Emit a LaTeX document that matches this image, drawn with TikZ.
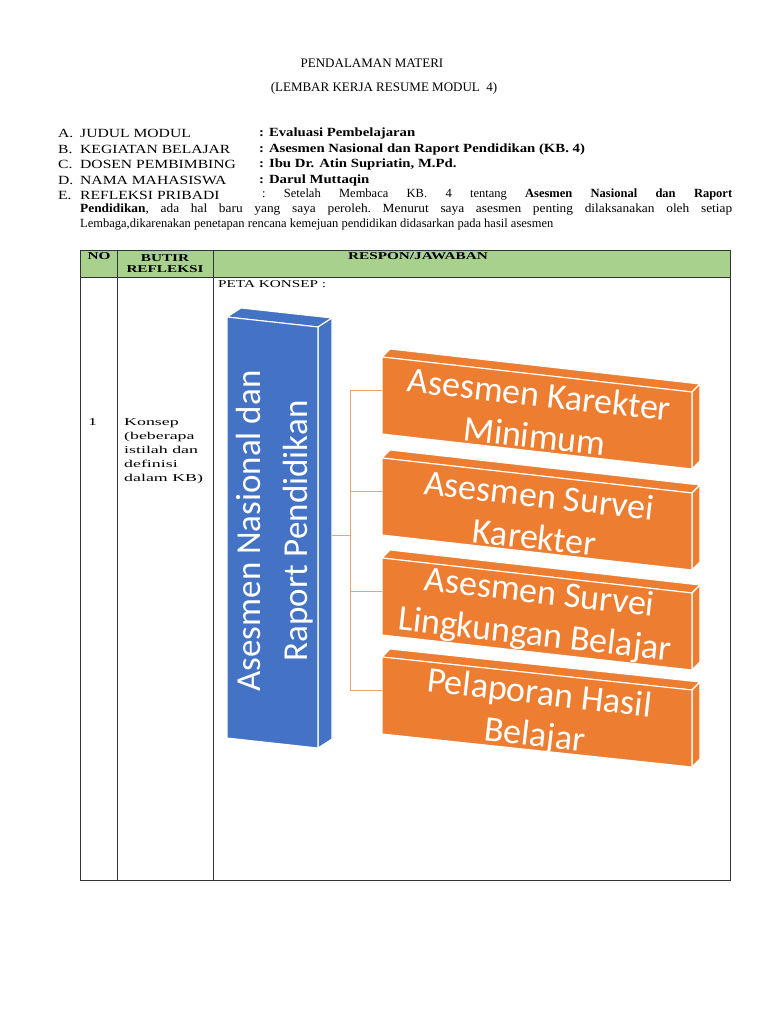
\documentclass[tikz,border=0pt]{standalone}
\usepackage{fontspec}
\setmainfont{Liberation Serif}
\newfontfamily\calib{Carlito}
\newfontfamily\widea[FakeStretch=1.45]{Liberation Serif}
\newfontfamily\wideb[FakeStretch=1.7]{Liberation Serif}
\newfontfamily\widec[FakeStretch=1.18]{Liberation Serif}
\newfontfamily\wided[FakeStretch=1.25]{Liberation Serif}
\newfontfamily\widee[FakeStretch=1.07]{Liberation Serif}
\usetikzlibrary{calc}
\definecolor{orng}{HTML}{ED7D31}
\definecolor{blu}{HTML}{4472C4}
\definecolor{grn}{HTML}{A9D18E}
\definecolor{conn}{HTML}{EFA46A}
\definecolor{tline}{HTML}{333333}
\newcommand{\slab}[9]{% name, color, x, y, w, h, rise, dx, dy
  \coordinate (#1tl) at (#3,#4);
  \coordinate (#1tr) at ($(#3,#4)+(#5,#7)$);
  \coordinate (#1br) at ($(#1tr)+(0,#6)$);
  \coordinate (#1bl) at ($(#3,#4)+(0,#6)$);
  \filldraw[fill=#2,draw=white,line width=1.1pt,line join=round]
    (#1tl) -- ($(#1tl)+(#8,#9)$) -- ($(#1tr)+(#8,#9)$) -- (#1tr) -- cycle;
  \filldraw[fill=#2,draw=white,line width=1.1pt,line join=round]
    (#1tr) -- ($(#1tr)+(#8,#9)$) -- ($(#1br)+(#8,#9)$) -- (#1br) -- cycle;
  \filldraw[fill=#2,draw=white,line width=1.1pt,line join=round]
    (#1tl) -- (#1tr) -- (#1br) -- (#1bl) -- cycle;
  \coordinate (#1lm) at ($(#1tl)+(0,#6*0.44)$);
  \coordinate (#1c) at ($(#1tl)!0.5!(#1br)$);
}
\begin{document}
\begin{tikzpicture}[x=1pt,y=-1pt,
  hd/.style={inner sep=0pt,anchor=west,font=\fontsize{12.5}{15}\selectfont\frenchspacing},
  hl/.style={inner sep=0pt,anchor=west,font=\wided\fontsize{12.5}{15}\selectfont},
  hv/.style={inner sep=0pt,anchor=west,font=\widec\fontsize{12.5}{15}\selectfont\bfseries},
  hdc/.style={inner sep=0pt,font=\fontsize{13}{15}\selectfont},
  tb/.style={inner sep=0pt,font=\widea\fontsize{10.5}{13}\selectfont\bfseries,align=center},
  tt/.style={inner sep=0pt,anchor=north west,font=\widea\fontsize{10.5}{14}\selectfont,align=left},
  tk/.style={inner sep=0pt,anchor=north west,font=\wideb\fontsize{10.5}{14}\selectfont,align=left},
  otext/.style={inner sep=0pt,text=white,align=center,font=\calib\fontsize{36}{42}\selectfont},
  btext/.style={inner sep=0pt,text=white,align=center,font=\calib\fontsize{35}{47}\selectfont},
  connline/.style={draw=conn,line width=0.9pt},
  grid/.style={draw=tline,line width=0.9pt}]
\useasboundingbox (0,0) rectangle (768,1024);
\fill[white] (0,0) rectangle (768,1024);

% titles
\node[hdc] (t1) at (372,63) {PENDALAMAN MATERI};
\node[hdc] (t2) at (384,88) {(LEMBAR KERJA RESUME MODUL\ \ 4)};

% items
\node[hl] (la) at (58,133) {A.};
\node[hl] (lb) at (58,149) {B.};
\node[hl] (lc) at (58,164) {C.};
\node[hl] (ld) at (58,180) {D.};
\node[hl] (le) at (58,195) {E.};
\node[hl] (na) at (80,133) {JUDUL MODUL};
\node[hl] (nb) at (80,149) {KEGIATAN BELAJAR};
\node[hl] (nc) at (80,164) {DOSEN PEMBIMBING};
\node[hl] (nd) at (80,180) {NAMA MAHASISWA};
\node[hl] (ne) at (80,195) {REFLEKSI PRIBADI};
\node[hv] (va) at (259,133) {: Evaluasi Pembelajaran};
\node[hv] (vb) at (259,149) {: Asesmen Nasional dan Raport Pendidikan (KB. 4)};
\node[hv] (vc) at (259,164) {: Ibu Dr. Atin Supriatin, M.Pd.};
\node[hv] (vd) at (259,180) {: Darul Muttaqin};
\node[hd] (ve) at (262,195) {\makebox[470pt][s]{: Setelah Membaca KB. 4 tentang \textbf{Asesmen Nasional dan Raport}}};
\node[hd] (ve2) at (80,210) {\widee\makebox[652pt][s]{\textbf{Pendidikan}, ada hal baru yang saya peroleh. Menurut saya asesmen penting dilaksanakan oleh setiap}};
\node[hd] (ve3) at (80,225) {Lembaga,dikarenakan penetapan rencana kemejuan pendidikan didasarkan pada hasil asesmen};

% table
\fill[grn] (80,250) rectangle (730,277);
\draw[grid] (80,250) rectangle (730,880);
\draw[grid] (80,277) -- (730,277);
\draw[grid] (117,250) -- (117,880);
\draw[grid] (213,250) -- (213,880);
\node[tb] (hno) at (99,256) {NO};
\node[tb] (hbu) at (165,263.5) {BUTIR\\[-2pt]REFLEKSI};
\node[tb] (hre) at (418,256) {RESPON/JAWABAN};
\node[tt] (peta) at (218,280) {PETA KONSEP :};
\node[tk] (no1) at (88,418) {1};
\node[tk] (kons) at (124,418) {Konsep\\(beberapa\\istilah dan\\definisi\\dalam KB)};

% blue slab
\slab{b}{blu}{227}{317}{91}{421}{10}{14}{-9}
\node[btext,rotate=90] (btx) at (275,531) {Asesmen Nasional dan\\Raport Pendidikan};
\coordinate (bside) at (332,535);

% orange slabs
\slab{oa}{orng}{382}{357}{310}{77}{35}{8}{-8}
\slab{ob}{orng}{382}{458}{310}{77}{35}{8}{-8}
\slab{oc}{orng}{382}{558}{310}{77}{35}{8}{-8}
\slab{od}{orng}{382}{657}{310}{77}{33}{8}{-8}
\node[otext,rotate=-6.4] (ta) at ($(oac)+(0,2)$) {Asesmen Karekter\\Minimum};
\node[otext,rotate=-6.4] (tb2) at ($(obc)+(0,2)$) {Asesmen Survei\\Karekter};
\node[otext,rotate=-6.4] (tc) at ($(occ)+(0,1)$) {Asesmen Survei\\Lingkungan Belajar};
\node[otext,rotate=-6.4] (td) at ($(odc)+(0,4)$) {Pelaporan Hasil\\Belajar};

% connectors
\coordinate (spine) at (350,0);
\draw[connline] (oalm) -- (oalm -| spine) -- (odlm -| spine) -- (odlm);
\draw[connline] (oblm) -- (oblm -| spine);
\draw[connline] (oclm) -- (oclm -| spine);
\draw[connline] (bside) -- (bside -| spine);
\end{tikzpicture}
\end{document}
